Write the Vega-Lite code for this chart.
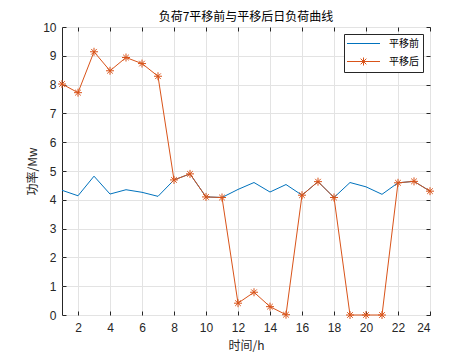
{
  "$schema": "https://vega.github.io/schema/vega-lite/v6.json",
  "width": 368,
  "height": 288,
  "autosize": {"type": "none"},
  "padding": {"left": 62, "top": 27, "right": 44, "bottom": 40},
  "background": "white",
  "title": {
    "text": "负荷7平移前与平移后日负荷曲线",
    "font": "Noto Sans CJK SC",
    "fontSize": 12,
    "fontWeight": "normal",
    "color": "#000000",
    "anchor": "middle",
    "offset": -3
  },
  "config": {
    "view": {"stroke": "#262626", "strokeWidth": 1},
    "axis": {
      "domain": false,
      "tickColor": "#262626",
      "tickWidth": 1,
      "tickSize": -4,
      "labelFont": "Liberation Sans",
      "labelFontSize": 12,
      "labelColor": "#262626",
      "titleFont": "Noto Sans CJK SC",
      "titleFontSize": 12,
      "titleFontWeight": "normal",
      "titleColor": "#262626",
      "gridColor": "#E3E3E3",
      "gridWidth": 1
    }
  },
  "data": {
    "values": [
      {"h": 1, "s": "平移前", "v": 4.33},
      {"h": 2, "s": "平移前", "v": 4.14},
      {"h": 3, "s": "平移前", "v": 4.82},
      {"h": 4, "s": "平移前", "v": 4.2},
      {"h": 5, "s": "平移前", "v": 4.35},
      {"h": 6, "s": "平移前", "v": 4.26},
      {"h": 7, "s": "平移前", "v": 4.12},
      {"h": 8, "s": "平移前", "v": 4.69},
      {"h": 9, "s": "平移前", "v": 4.9},
      {"h": 10, "s": "平移前", "v": 4.1},
      {"h": 11, "s": "平移前", "v": 4.08},
      {"h": 12, "s": "平移前", "v": 4.36},
      {"h": 13, "s": "平移前", "v": 4.6},
      {"h": 14, "s": "平移前", "v": 4.27},
      {"h": 15, "s": "平移前", "v": 4.53},
      {"h": 16, "s": "平移前", "v": 4.16},
      {"h": 17, "s": "平移前", "v": 4.63},
      {"h": 18, "s": "平移前", "v": 4.08},
      {"h": 19, "s": "平移前", "v": 4.6},
      {"h": 20, "s": "平移前", "v": 4.45},
      {"h": 21, "s": "平移前", "v": 4.19},
      {"h": 22, "s": "平移前", "v": 4.59},
      {"h": 23, "s": "平移前", "v": 4.64},
      {"h": 24, "s": "平移前", "v": 4.3},
      {"h": 1, "s": "平移后", "v": 8.02},
      {"h": 2, "s": "平移后", "v": 7.72},
      {"h": 3, "s": "平移后", "v": 9.14},
      {"h": 4, "s": "平移后", "v": 8.48},
      {"h": 5, "s": "平移后", "v": 8.94},
      {"h": 6, "s": "平移后", "v": 8.73},
      {"h": 7, "s": "平移后", "v": 8.29},
      {"h": 8, "s": "平移后", "v": 4.69},
      {"h": 9, "s": "平移后", "v": 4.9},
      {"h": 10, "s": "平移后", "v": 4.1},
      {"h": 11, "s": "平移后", "v": 4.08},
      {"h": 12, "s": "平移后", "v": 0.41},
      {"h": 13, "s": "平移后", "v": 0.79},
      {"h": 14, "s": "平移后", "v": 0.29},
      {"h": 15, "s": "平移后", "v": 0.01},
      {"h": 16, "s": "平移后", "v": 4.16},
      {"h": 17, "s": "平移后", "v": 4.63},
      {"h": 18, "s": "平移后", "v": 4.08},
      {"h": 19, "s": "平移后", "v": 0},
      {"h": 20, "s": "平移后", "v": 0},
      {"h": 21, "s": "平移后", "v": 0},
      {"h": 22, "s": "平移后", "v": 4.59},
      {"h": 23, "s": "平移后", "v": 4.64},
      {"h": 24, "s": "平移后", "v": 4.3}
    ]
  },
  "layer": [
    {
      "transform": [{"filter": "datum.s === '平移前'"}],
      "mark": {"type": "line", "strokeWidth": 1},
      "encoding": {
        "x": {
          "field": "h", "type": "quantitative",
          "scale": {"domain": [1, 24], "nice": false, "zero": false},
          "axis": {"orient": "bottom", "values": [2,4,6,8,10,12,14,16,18,20,22,24], "grid": true, "title": "时间/h", "labelPadding": 11, "titlePadding": 7}
        },
        "y": {
          "field": "v", "type": "quantitative",
          "scale": {"domain": [0, 10], "nice": false},
          "axis": {"orient": "left", "values": [0,1,2,3,4,5,6,7,8,9,10], "grid": true, "title": "功率/Mw", "labelPadding": 10, "titlePadding": 3}
        },
        "color": {
          "field": "s", "type": "nominal",
          "scale": {"domain": ["平移前", "平移后"], "range": ["#0072BD", "#D95319"]},
          "legend": {
            "title": null,
            "orient": "top-right",
            "offset": 7,
            "symbolType": "M -3.3 0 L 3.3 0",
            "symbolSize": 100,
            "symbolStrokeWidth": 1,
            "symbolOffset": 10,
            "labelOffset": 20,
            "labelFont": "Noto Sans CJK SC",
            "labelFontSize": 10,
            "labelColor": "#000000",
            "rowPadding": 6,
            "padding": 4,
            "fillColor": "white",
            "strokeColor": "#262626",
            "encoding": {
              "symbols": {
                "shape": {
                  "condition": {"test": "datum.value === '平移后'", "value": "M -3.3 0 L 3.3 0 M 0 -0.8 L 0 0.8 M -0.57 -0.57 L 0.57 0.57 M -0.57 0.57 L 0.57 -0.57"},
                  "value": "M -3.3 0 L 3.3 0"
                }
              }
            }
          }
        }
      }
    },
    {
      "transform": [{"filter": "datum.s === '平移后'"}],
      "mark": {"type": "line", "strokeWidth": 1},
      "encoding": {
        "x": {
          "field": "h", "type": "quantitative",
          "axis": {"orient": "top", "values": [2,4,6,8,10,12,14,16,18,20,22,24], "grid": false, "labels": false, "title": null}
        },
        "y": {
          "field": "v", "type": "quantitative",
          "axis": {"orient": "right", "values": [0,1,2,3,4,5,6,7,8,9,10], "grid": false, "labels": false, "title": null}
        },
        "color": {
          "field": "s", "type": "nominal",
          "legend": {
            "title": null,
            "orient": "top-right",
            "offset": 7,
            "symbolType": "M -3.3 0 L 3.3 0",
            "symbolSize": 100,
            "symbolStrokeWidth": 1,
            "symbolOffset": 10,
            "labelOffset": 20,
            "labelFont": "Noto Sans CJK SC",
            "labelFontSize": 10,
            "labelColor": "#000000",
            "rowPadding": 6,
            "padding": 4,
            "fillColor": "white",
            "strokeColor": "#262626",
            "encoding": {
              "symbols": {
                "shape": {
                  "condition": {"test": "datum.value === '平移后'", "value": "M -3.3 0 L 3.3 0 M 0 -0.8 L 0 0.8 M -0.57 -0.57 L 0.57 0.57 M -0.57 0.57 L 0.57 -0.57"},
                  "value": "M -3.3 0 L 3.3 0"
                }
              }
            }
          }
        }
      }
    },
    {
      "transform": [{"filter": "datum.s === '平移后'"}],
      "mark": {
        "type": "point",
        "shape": "M -1 0 L 1 0 M 0 -1 L 0 1 M -0.7 -0.7 L 0.7 0.7 M -0.7 0.7 L 0.7 -0.7",
        "size": 64,
        "filled": false,
        "strokeWidth": 1,
        "color": "#D95319",
        "opacity": 1
      },
      "encoding": {
        "x": {"field": "h", "type": "quantitative", "axis": null},
        "y": {"field": "v", "type": "quantitative", "axis": null}
      }
    }
  ]
}
